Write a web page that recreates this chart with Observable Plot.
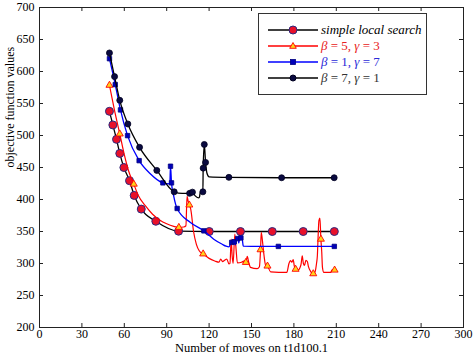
<!DOCTYPE html>
<html>
<head>
<meta charset="utf-8">
<script src="https://cdn.jsdelivr.net/npm/d3@7"></script>
<script src="https://cdn.jsdelivr.net/npm/@observablehq/plot@0.6"></script>
<style>
  body { margin: 0; background: #fff; }
  #wrap { position: relative; width: 474px; height: 355px; }
  #legend { position: absolute; left: 258px; top: 13px; width: 169px; height: 82px;
    box-sizing: border-box; border: 1px solid #333; background: #fff; padding-top: 8px;
    font-family: 'Liberation Serif', 'Times New Roman', 'DejaVu Serif', serif; font-size: 13px; }
  .row { display: flex; align-items: center; height: 16px; }
  .row svg { margin-left: 9px; margin-right: 3px; }
  i { font-style: italic; }
</style>
</head>
<body>
<div id="wrap"></div>
<script>
// ---- data ----
const xTicks = [0, 30, 60, 90, 120, 150, 180, 210, 240, 270, 300];
const yTicks = [200, 250, 300, 350, 400, 450, 500, 550, 600, 650, 700];
const seriesNames = ["simple local search", "β = 5, γ = 3", "β = 1, γ = 7", "β = 7, γ = 1"];

// simple local search (line through its markers)
const simpleLS = [[49.5,537.8],[51.9,516.5],[54.5,494],[56.8,472],[59.7,450],[63.7,429.4],[67,406.4],[72,385],[82.3,366],[98.4,350.5],[120.1,350],[142.2,350],[164.7,350],[186.6,350],[208.6,350]];

// beta=5, gamma=3
const b5Line = [[49.5,578.5],[53,540],[56.8,502.4],[60,470],[63,445],[66.7,424],[70,406],[75,390],[80,377],[85,368],[90,362],[95,358],[98.6,356.4],[102,357],[103.6,359],[104.4,405],[105.2,397],[106,391.4],[107,385],[109,350],[111,330],[113,320],[115.8,315],[120,308],[124,304],[127,302],[128.2,307],[129.5,303],[131,305],[132.5,307],[134,299.5],[134.8,300],[135.6,338],[136.3,312],[137,300],[138.2,346],[139.1,322],[140,301],[143,302],[145,304],[146,301.7],[147,311],[148,302],[149.3,294],[154,292],[155.6,295],[156.4,321.5],[156.9,348.6],[158,330],[159,310],[160,297],[161.3,296],[163.5,287],[175,286],[176.5,300],[177.6,304.5],[178.5,302],[179.5,306],[180.3,296],[181.2,291],[183,290],[185,298],[185.9,312],[186.7,300],[187.5,297],[188.5,305],[189.5,303],[190.3,295],[192,287],[193.7,284],[195,287],[196,300],[196.6,312],[197.1,340],[197.7,367],[198.4,371],[199.1,338],[199.7,318],[200.2,294],[201.2,286],[206,286],[207,290],[208.8,289.7]];
const b5Marks = [[49.5,578.5],[56.8,502.4],[66.7,424],[98.6,356.4],[106,391.4],[115.8,315],[146,301.7],[156.4,321.5],[161.3,296],[181.2,291],[193.7,284],[199.1,338],[208.8,289.7]];

// beta=1, gamma=7
const b1Line = [[49.5,620],[53.6,579.6],[57.3,540],[62.3,499.8],[70.5,460.7],[78,441],[87.3,426],[92.2,424.5],[92.7,452],[93.4,426],[95,405],[97.4,386],[106.8,364],[116.3,351],[123.3,338],[129.3,330],[132,327],[134,326],[135,330],[136,336],[137,331],[137.8,334],[138.5,329],[139.2,338],[140.3,339],[141,332],[141.7,341],[142.5,340],[143.5,337],[144.2,327],[169,326.7],[208.6,326.7]];
const b1Marks = [[49.5,620],[53.6,579.6],[57.3,540],[62.3,499.8],[70.5,460.7],[87.3,426],[92.7,452],[93.4,426],[97.4,386],[116.3,351],[136,333],[137.8,334],[140.3,339],[142.5,340],[169,326.7],[208.6,326.7]];

// beta=7, gamma=1
const b7Line = [[49.5,629],[53.1,592],[56.8,555],[62.5,518],[70.8,481.5],[83,445.5],[95.3,412],[101,409.5],[106.2,409.6],[108.2,411.5],[110,406],[112.5,402.5],[113.2,404],[113.8,412],[115.6,412],[115.8,449],[116.6,486],[117.5,458],[118.5,441],[120,435.5],[134,434.6],[171.3,434],[208.5,434]];
const b7Marks = [[49.5,629],[53.1,592],[56.8,555],[62.5,518],[70.8,481.5],[83,445.5],[95.3,412],[106.2,409.6],[108.2,411.5],[115.6,412],[115.8,449],[116.6,486],[117.5,458],[134,434.6],[171.3,434],[208.5,434]];

// ---- styling ----
const W = 474, H = 355, mL = 39, mR = 11, mT = 7, mB = 28;
const xLen = 4 * 300 / (W - mL - mR);   // 4px tick in x units
const yLen = 4 * 500 / (H - mT - mB);   // 4px tick in y units
const serif = "'Liberation Serif', 'Times New Roman', 'DejaVu Serif', serif";

const cBlack = "#000", cRed = "#ff0000", cBlue = "#0000ff";
const circleFill = "#e8102a", circleStroke = "#2a2a80";
const triFill = "#ffd21a", triStroke = "#ff0000";
const sqFill = "#0000b8", sqStroke = "#000080";
const navyFill = "#0a0a40", navyStroke = "#000020";

const X = d => d[0], Y = d => d[1];

const chart = Plot.plot({
  width: W, height: H,
  marginLeft: mL, marginRight: mR, marginTop: mT, marginBottom: mB,
  x: {domain: [0, 300]},
  y: {domain: [200, 700]},
  style: {fontFamily: serif, fontSize: "12px", background: "#fff", color: "#000"},
  marks: [
    Plot.axisX({ticks: xTicks, tickSize: 0, tickPadding: 2, label: null, tickFormat: d => String(d), fontFamily: serif, fontSize: 12}),
    Plot.axisY({ticks: yTicks, tickSize: 0, tickPadding: 5, label: null, tickFormat: d => String(d), fontFamily: serif, fontSize: 12}),
    Plot.ruleX(xTicks, {x: d => d, y1: 200, y2: 200 + yLen, stroke: "#222"}),
    Plot.ruleX(xTicks, {x: d => d, y1: 700, y2: 700 - yLen, stroke: "#222"}),
    Plot.ruleY(yTicks, {y: d => d, x1: 0, x2: xLen, stroke: "#222"}),
    Plot.ruleY(yTicks, {y: d => d, x1: 300, x2: 300 - xLen, stroke: "#222"}),
    Plot.text(["Number of moves on t1d100.1"], {frameAnchor: "bottom", dy: 24.5, fontSize: 12.5, fontFamily: serif}),
    Plot.text(["objective function values"], {frameAnchor: "left", rotate: -90, dx: -29, fontSize: 12, fontFamily: serif}),

    Plot.line(simpleLS, {x: X, y: Y, stroke: cBlack, strokeWidth: 1.3, curve: "monotone-x"}),
    Plot.dot(simpleLS, {x: X, y: Y, r: 4, fill: circleFill, stroke: circleStroke, strokeWidth: 1}),

    Plot.line(b5Line, {x: X, y: Y, stroke: cRed, strokeWidth: 1.2, curve: "monotone-x"}),
    Plot.dot(b5Marks, {x: X, y: Y, symbol: "triangle", r: 2.6, fill: triFill, stroke: triStroke, strokeWidth: 0.9}),

    Plot.line(b1Line, {x: X, y: Y, stroke: cBlue, strokeWidth: 1.3, curve: "monotone-x"}),
    Plot.dot(b1Marks, {x: X, y: Y, symbol: "square", r: 2.5, fill: sqFill, stroke: sqStroke, strokeWidth: 0.8}),

    Plot.line(b7Line, {x: X, y: Y, stroke: cBlack, strokeWidth: 1.3, curve: "monotone-x"}),
    Plot.dot(b7Marks, {x: X, y: Y, r: 3, fill: navyFill, stroke: navyStroke, strokeWidth: 0.8}),

    Plot.frame({stroke: "#222"})
  ]
});

const wrap = document.getElementById("wrap");
wrap.appendChild(chart);

// ---- legend (inside the plot area, top right) ----
const legendItems = [
  {name: seriesNames[0], line: cBlack, shape: "circle", fill: circleFill, stroke: circleStroke, color: "#000", html: "<i>simple local search</i>"},
  {name: seriesNames[1], line: cRed, shape: "triangle", fill: triFill, stroke: triStroke, color: "#e82020", html: "<i>β</i> = 5, <i>γ</i> = 3"},
  {name: seriesNames[2], line: cBlue, shape: "square", fill: sqFill, stroke: sqStroke, color: "#2a2ad8", html: "<i>β</i> = 1, <i>γ</i> = 7"},
  {name: seriesNames[3], line: cBlack, shape: "navy", fill: navyFill, stroke: navyStroke, color: "#333", html: "<i>β</i> = 7, <i>γ</i> = 1"}
];
const legend = document.createElement("div");
legend.id = "legend";
for (const it of legendItems) {
  const row = document.createElement("div");
  row.className = "row";
  let marker;
  if (it.shape === "circle") marker = `<circle cx="25" cy="8" r="4" fill="${it.fill}" stroke="${it.stroke}"/>`;
  else if (it.shape === "navy") marker = `<circle cx="25" cy="8" r="3" fill="${it.fill}" stroke="${it.stroke}"/>`;
  else if (it.shape === "square") marker = `<rect x="22.5" y="5.5" width="5" height="5" fill="${it.fill}" stroke="${it.stroke}" stroke-width="0.8"/>`;
  else marker = `<path d="M25,4.5 L28.3,10.3 L21.7,10.3 Z" fill="${it.fill}" stroke="${it.stroke}" stroke-width="0.9"/>`;
  row.innerHTML = `<svg width="50" height="16"><line x1="0" x2="50" y1="8" y2="8" stroke="${it.line}" stroke-width="1.3"/>${marker}</svg><span style="color:${it.color}">${it.html}</span>`;
  legend.appendChild(row);
}
wrap.appendChild(legend);
</script>
</body>
</html>
